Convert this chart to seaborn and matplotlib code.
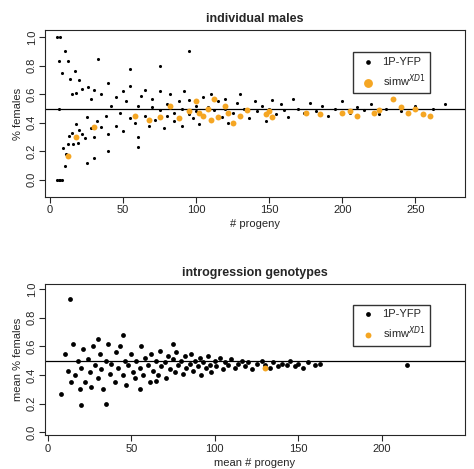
import matplotlib
matplotlib.use("Agg")
import matplotlib.pyplot as plt
import seaborn as sns
import pandas as pd

sns.set_style("ticks")
plt.rcParams['font.family'] = ['Liberation Sans', 'DejaVu Sans']

top_x = [5,6,7,8,5,7,6,6,8,9,10,10,11,12,12,13,14,15,15,16,17,18,18,19,20,20,22,22,24,25,26,28,28,30,30,32,33,35,35,38,40,40,42,45,45,48,50,50,52,55,55,58,60,60,62,65,65,68,70,70,72,75,75,78,80,80,82,85,85,88,90,90,92,95,95,98,100,100,102,105,105,108,110,110,112,115,118,120,120,122,125,128,130,130,133,136,140,142,145,148,150,152,155,158,160,163,166,170,174,178,182,186,190,195,200,205,210,215,220,225,230,240,250,262,270,95,75,60,40,55,25,30]
top_y = [0.0,0.0,0.0,0.0,1.0,1.0,0.83,0.5,0.75,0.22,0.1,0.9,0.18,0.25,0.83,0.31,0.71,0.33,0.6,0.25,0.76,0.39,0.61,0.26,0.35,0.7,0.32,0.64,0.29,0.44,0.65,0.36,0.57,0.3,0.63,0.41,0.85,0.37,0.6,0.45,0.32,0.68,0.52,0.38,0.58,0.47,0.34,0.62,0.55,0.43,0.66,0.4,0.52,0.3,0.59,0.45,0.63,0.38,0.51,0.57,0.42,0.49,0.62,0.36,0.53,0.45,0.6,0.47,0.41,0.55,0.5,0.38,0.62,0.46,0.56,0.43,0.52,0.48,0.39,0.58,0.45,0.51,0.42,0.6,0.49,0.55,0.44,0.5,0.57,0.4,0.47,0.54,0.45,0.6,0.5,0.43,0.55,0.48,0.52,0.41,0.5,0.56,0.46,0.53,0.49,0.44,0.57,0.5,0.47,0.54,0.48,0.52,0.45,0.5,0.55,0.47,0.51,0.49,0.53,0.46,0.5,0.48,0.52,0.5,0.53,0.9,0.8,0.23,0.2,0.78,0.12,0.15]
top_ox = [12,18,30,58,68,75,82,88,95,100,102,105,108,110,112,115,120,122,125,130,135,148,150,152,175,185,200,205,210,222,225,235,240,245,250,255,260]
top_oy = [0.17,0.3,0.37,0.45,0.42,0.44,0.52,0.43,0.48,0.55,0.47,0.45,0.5,0.42,0.57,0.44,0.52,0.47,0.4,0.45,0.49,0.46,0.48,0.44,0.47,0.46,0.47,0.48,0.45,0.47,0.49,0.57,0.51,0.47,0.5,0.46,0.45]

bot_x = [8,10,12,13,14,15,16,18,19,20,21,22,24,25,26,27,28,30,31,32,33,35,36,37,38,40,41,42,43,45,46,47,48,50,51,52,53,55,56,57,58,60,61,62,63,65,66,67,68,70,71,72,73,75,76,77,78,80,81,82,83,85,86,87,88,90,91,92,93,95,96,97,98,100,101,103,105,106,108,110,112,114,116,118,120,122,125,128,130,133,135,138,140,143,145,148,150,153,156,160,163,215,20,35,45,55,30,75,65]
bot_y = [0.27,0.55,0.43,0.93,0.35,0.62,0.4,0.5,0.3,0.45,0.58,0.35,0.51,0.42,0.32,0.6,0.47,0.38,0.55,0.44,0.3,0.5,0.62,0.41,0.48,0.35,0.56,0.45,0.6,0.4,0.5,0.33,0.47,0.55,0.42,0.38,0.5,0.45,0.6,0.4,0.52,0.47,0.35,0.55,0.43,0.5,0.4,0.57,0.46,0.49,0.38,0.53,0.44,0.51,0.42,0.56,0.47,0.5,0.41,0.53,0.45,0.48,0.55,0.43,0.5,0.46,0.52,0.4,0.49,0.45,0.53,0.47,0.42,0.5,0.46,0.52,0.44,0.49,0.47,0.51,0.45,0.48,0.5,0.46,0.49,0.44,0.48,0.5,0.47,0.45,0.49,0.46,0.48,0.47,0.5,0.46,0.48,0.45,0.49,0.47,0.48,0.47,0.19,0.2,0.68,0.3,0.65,0.62,0.36]
bot_ox = [130]
bot_oy = [0.45]

ORANGE = "#F5A623"
fig = plt.figure(figsize=(4.74, 4.69), dpi=100)
ax1 = fig.add_axes([0.095, 0.580, 0.886, 0.356])
ax2 = fig.add_axes([0.095, 0.072, 0.886, 0.322])

def style(ax):
    for s in ax.spines.values():
        s.set_linewidth(0.8)
    ax.tick_params(labelsize=8, length=4, width=0.8, pad=2)
    ax.axhline(0.5, color="black", lw=0.9, zorder=1)
    ax.set_yticks([0, 0.2, 0.4, 0.6, 0.8, 1.0])
    ax.set_yticklabels(["0.0", "0.2", "0.4", "0.6", "0.8", "1.0"], rotation=90, va="center")

sns.scatterplot(x=top_x, y=top_y, ax=ax1, color="black", s=5, linewidth=0, label="1P-YFP", zorder=2)
sns.scatterplot(x=top_ox, y=top_oy, ax=ax1, color=ORANGE, s=18, linewidth=0, label="simw$^{XD1}$", zorder=3)
ax1.set_xlim(-3.4, 284); ax1.set_ylim(-0.12, 1.05)
ax1.set_xticks([0, 50, 100, 150, 200, 250])
style(ax1)
ax1.set_xlabel("# progeny", fontsize=8, labelpad=3); ax1.set_ylabel("% females", fontsize=8, labelpad=3)
ax1.set_title("individual males", fontsize=9, fontweight="bold")
ax1.legend(loc="upper right", bbox_to_anchor=(0.93, 0.9), fontsize=8, frameon=True, fancybox=False,
           edgecolor="black", markerscale=1.5, handletextpad=0.3)

sns.scatterplot(x=bot_x, y=bot_y, ax=ax2, color="black", s=12, linewidth=0, label="1P-YFP", zorder=2)
sns.scatterplot(x=bot_ox, y=bot_oy, ax=ax2, color=ORANGE, s=18, linewidth=0, label="simw$^{XD1}$", zorder=3)
ax2.set_xlim(-1.8, 250); ax2.set_ylim(-0.02, 1.034)
ax2.set_xticks([0, 50, 100, 150, 200])
style(ax2)
ax2.set_xlabel("mean # progeny", fontsize=8, labelpad=3); ax2.set_ylabel("mean % females", fontsize=8, labelpad=3)
ax2.set_title("introgression genotypes", fontsize=9, fontweight="bold")
ax2.legend(loc="upper right", bbox_to_anchor=(0.93, 0.9), fontsize=8, frameon=True, fancybox=False,
           edgecolor="black", handletextpad=0.3)

fig.savefig("out.png", dpi=100)
